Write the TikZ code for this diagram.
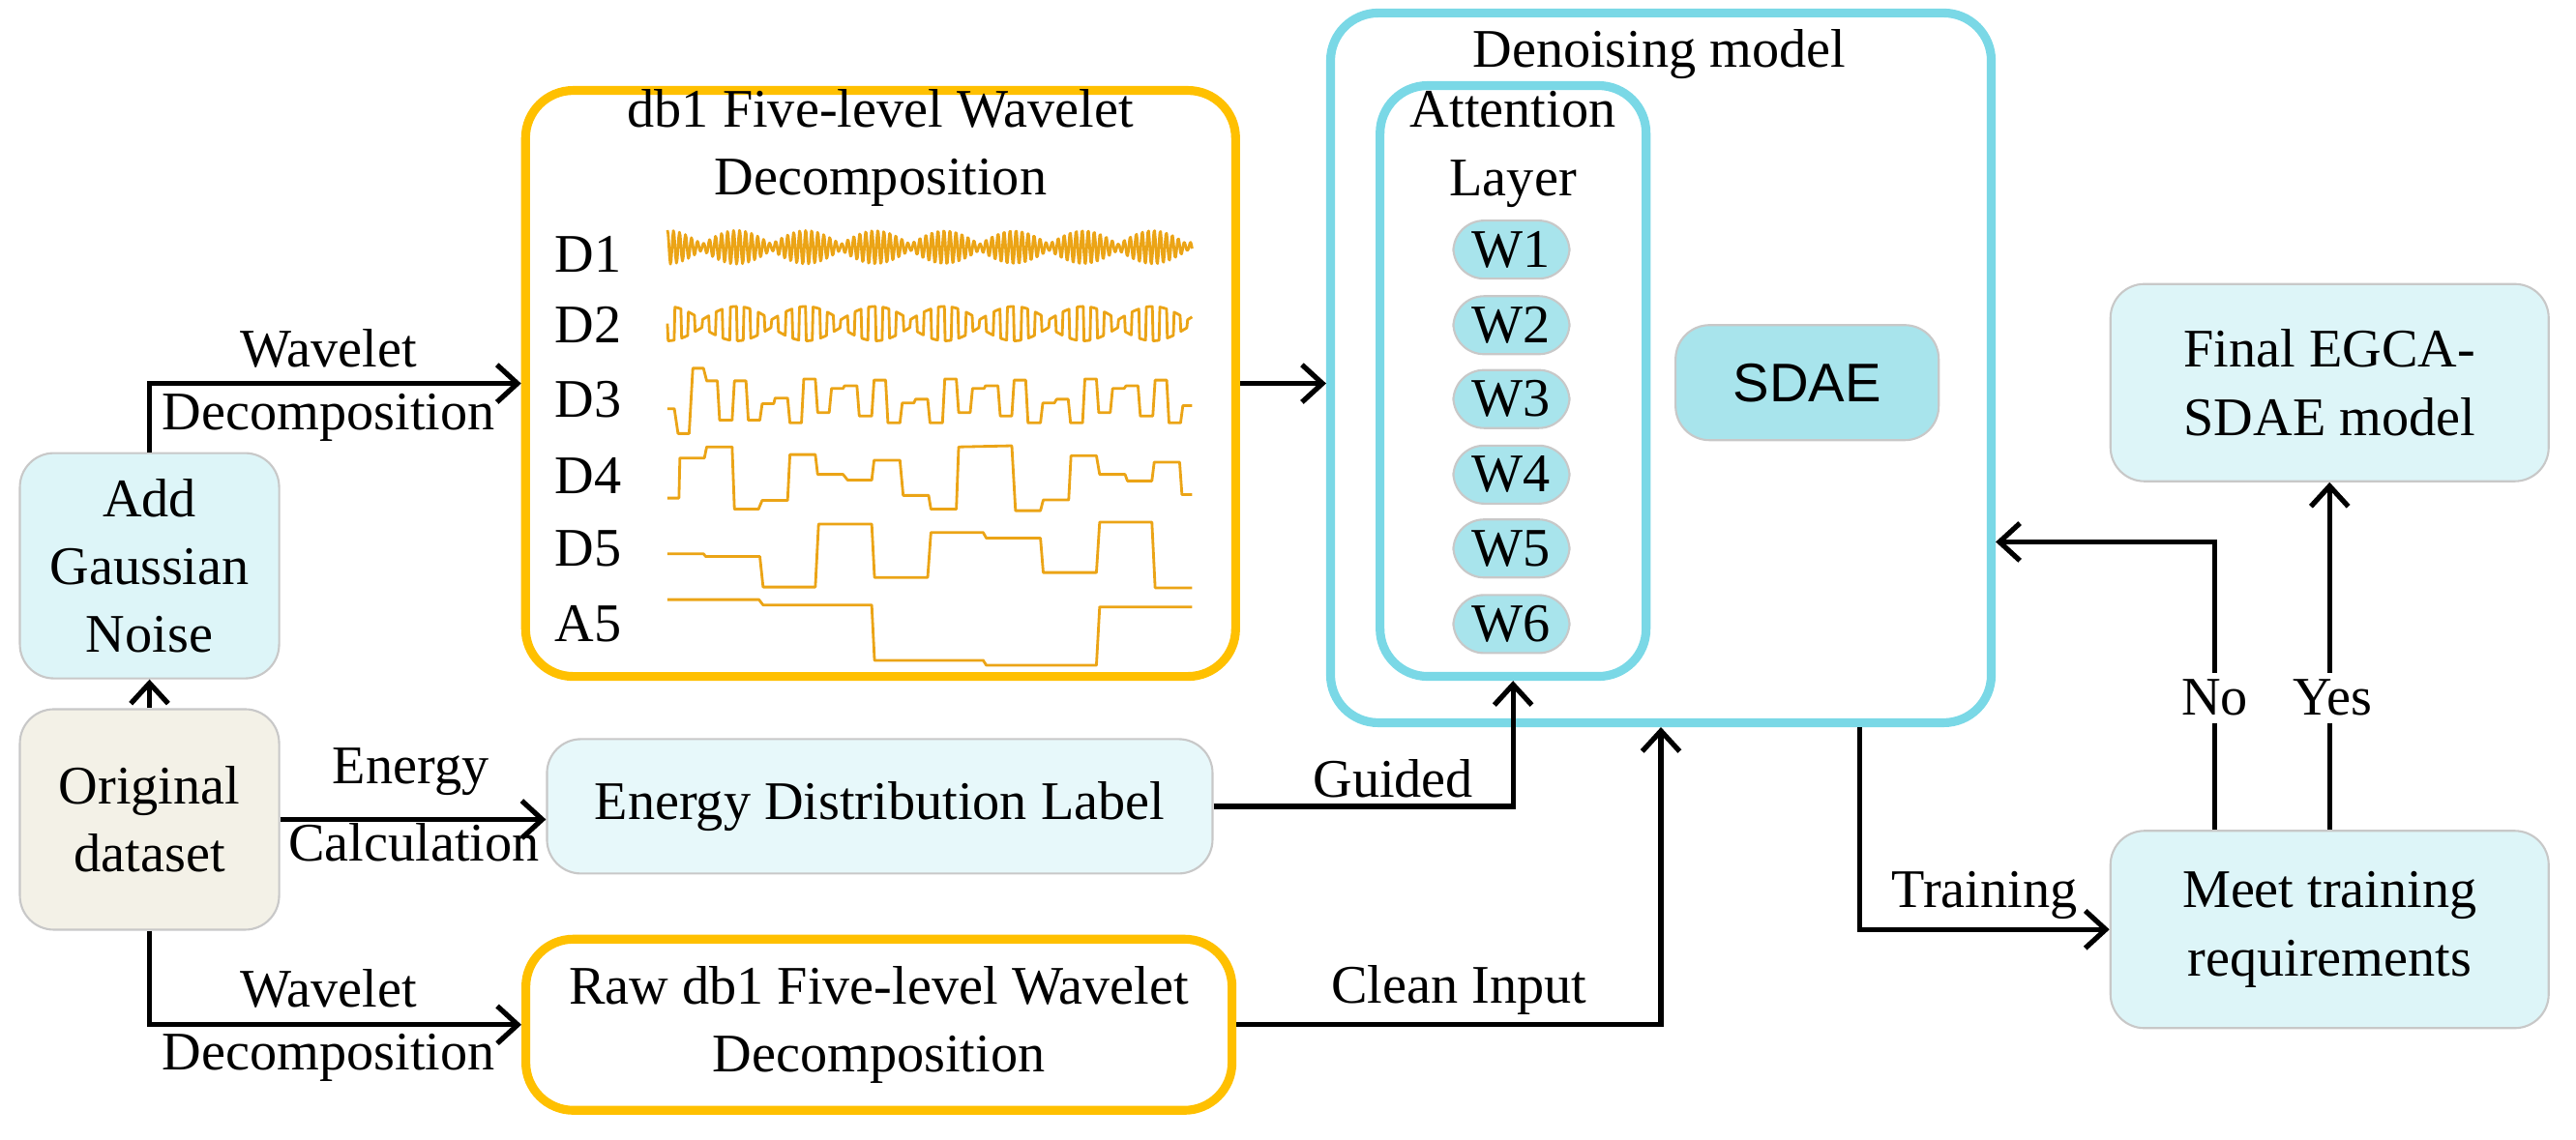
\documentclass[tikz,border=0pt]{standalone}
\usepackage{fontspec}
\setmainfont{Liberation Serif}
\newfontfamily\arialf{Liberation Sans}
\usetikzlibrary{arrows.meta,calc}
\definecolor{org}{HTML}{FFC000}
\definecolor{cyb}{HTML}{7AD8E6}
\definecolor{lfill}{HTML}{DDF5F8}
\definecolor{bfill}{HTML}{F3F1E7}
\definecolor{wfill}{HTML}{A8E4EC}
\definecolor{gbord}{HTML}{C8C8C8}
\definecolor{sig}{HTML}{EBA416}
\begin{document}
\begin{tikzpicture}[x=0.016983cm,y=-0.016983cm,
  every node/.style={font=\fontsize{16}{20}\selectfont,inner sep=0pt},
  softbox/.style={draw=gbord,line width=0.6pt,rounded corners=10pt,fill=lfill,align=center},
  orgbox/.style={draw=org,line width=2.6pt,rounded corners=14pt},
  cybox/.style={draw=cyb,line width=2.6pt,rounded corners=14pt},
  pill/.style={draw=gbord,line width=0.6pt,fill=wfill,rounded corners=9pt,text width=1.2cm,align=center,minimum height=0.6cm},
  conn/.style={line width=1.5pt,-{Straight Barb[length=6pt,width=11pt,line width=1.5pt]}},
  sigl/.style={sig,line width=0.8pt,line join=round}]
\useasboundingbox (0,0) rectangle (1568,694);
% boxes
\node[softbox,minimum width=2.68cm,minimum height=2.33cm] (add) at (91,344.5) {Add\\Gaussian\\Noise};
\node[softbox,fill=bfill,minimum width=2.68cm,minimum height=2.28cm] (orig) at (91,499) {Original\\dataset};
\node[orgbox,minimum width=7.34cm,minimum height=6.06cm] (wav) at (536,233.5) {};
\node[align=center] (wavt) at (536,90) {db1 Five-level Wavelet\\Decomposition};
\node[softbox,fill=lfill!70!white,minimum width=6.88cm,minimum height=1.39cm] (energy) at (535.5,491) {Energy Distribution Label};
\node[orgbox,minimum width=7.3cm,minimum height=1.77cm,align=center] (raw) at (535,624) {Raw db1 Five-level Wavelet\\Decomposition};
\node[cybox,minimum width=6.83cm,minimum height=7.34cm] (den) at (1011,224) {};
\node (dent) at (1010,33) {Denoising model};
\node[cybox,minimum width=2.75cm,minimum height=6.11cm] (att) at (921,232) {};
\node[align=center] (attt) at (921,91) {Attention\\Layer};
\foreach \i/\yy in {1/152,2/198,3/243,4/289,5/334,6/380}
  \node[pill] (w\i) at (920,\yy) {W\i};
\node[softbox,fill=wfill,minimum width=2.72cm,minimum height=1.19cm] (sdae) at (1100,233) {\arialf SDAE};
\node[softbox,minimum width=4.53cm,minimum height=2.04cm] (final) at (1418,233) {Final EGCA-\\SDAE model};
\node[softbox,minimum width=4.53cm,minimum height=2.04cm] (meet) at (1418,566) {Meet training\\requirements};
% wavelet labels
\foreach \t/\yy in {D1/155,D2/198,D3/243,D4/290,D5/334,A5/380}
  \node (l\t) at (358,\yy) {\t};
% signals
\begin{scope}[shift={(317.6,52.9)},xscale=0.2814,yscale=0.2325]
\draw[sigl] plot[domain=315:1450,samples=700] (\x,{420-(8+37*abs(sin((\x-540)*1.2)))*sin(mod(\x,13)*27.69)});
\draw[sigl] plot[domain=315:1450,samples=700] (\x,{620-(10+35*abs(sin((\x-540)*1.2)))*sign(sin(mod(\x,30)*12))});
\draw[sigl] (315,843)--(330,843)--(338,908)--(362,908)--(370,737)--(393,737)--(400,770)--(423,770)--(428,873)--(455,873)--(460,770)--(485,770)--(490,873)--(515,873)--(520,830)--(545,830)--(548,815)--(575,815)--(580,880)--(605,880)--(610,765)--(635,765)--(640,853)--(665,853)--(670,790)--(695,790)--(698,783)--(725,783)--(730,862)--(757,862)--(762,768)--(787,768)--(792,880)--(818,880)--(823,828)--(848,828)--(852,818)--(878,818)--(883,880)--(910,880)--(915,765)--(940,765)--(945,853)--(970,853)--(975,790)--(1000,790)--(1003,783)--(1030,783)--(1035,862)--(1060,862)--(1065,768)--(1090,768)--(1095,880)--(1122,880)--(1127,828)--(1152,828)--(1157,818)--(1182,818)--(1187,880)--(1213,880)--(1218,765)--(1243,765)--(1248,853)--(1273,853)--(1278,790)--(1303,790)--(1307,783)--(1333,783)--(1338,862)--(1365,862)--(1370,768)--(1395,768)--(1400,880)--(1425,880)--(1430,835)--(1450,835);
\draw[sigl] (315,1077)--(340,1077)--(342,972)--(395,972)--(400,943)--(455,943)--(460,1106)--(512,1106)--(520,1083)--(575,1083)--(580,963)--(635,963)--(640,1015)--(695,1015)--(705,1030)--(757,1030)--(762,978)--(818,978)--(825,1070)--(880,1070)--(885,1106)--(940,1106)--(945,943)--(1060,940)--(1068,1110)--(1122,1110)--(1128,1082)--(1183,1082)--(1188,966)--(1243,966)--(1250,1015)--(1305,1015)--(1310,1032)--(1363,1032)--(1368,983)--(1423,983)--(1428,1068)--(1450,1068);
\draw[sigl] (315,1223)--(393,1223)--(398,1230)--(515,1230)--(522,1310)--(635,1310)--(642,1145)--(757,1145)--(763,1285)--(878,1285)--(885,1167)--(998,1167)--(1005,1182)--(1122,1182)--(1128,1272)--(1243,1272)--(1250,1140)--(1363,1140)--(1370,1312)--(1450,1312);
\draw[sigl] (315,1343)--(513,1343)--(522,1357)--(757,1357)--(763,1502)--(998,1502)--(1005,1515)--(1243,1515)--(1250,1362)--(1450,1362);
\end{scope}
% connectors
\draw[conn] (orig.north) -- (add.south);
\draw[conn] (add.north) |- (wav.west);
\draw[conn] (orig.south) |- (raw.west);
\draw[conn] (orig.east) -- (energy.west |- orig.east);
\draw[conn] (wav.east) -- (den.west |- wav.east);
\draw[conn] (energy.east) -| (att.south);
\draw[conn] (raw.east) -| (den.south);
\coordinate (tr) at ($(den.south)+(121,0)$);
\draw[conn] (tr) |- (meet.west);
\coordinate (nost) at ($(meet.north)+(-70,0)$);
\coordinate (noend) at ($(den.east)+(0,106)$);
\draw[conn] (nost) |- (noend);
\draw[conn] (meet.north) -- (final.south);
% labels
\node[fill=white,inner sep=2pt] (nol) at (1348,425) {No};
\node[fill=white,inner sep=2pt] (yesl) at (1420,425) {Yes};
\node (wl1) at (200,212) {Wavelet};
\node (wl2) at (200,254) {Decomposition};
\node (wl3) at (200,602) {Wavelet};
\node (wl4) at (200,644) {Decomposition};
\node (el1) at (250,470) {Energy};
\node (el2) at (252,513) {Calculation};
\node (gl) at (848,474) {Guided};
\node (cl) at (888,603) {Clean Input};
\node (tl) at (1208,545) {Training};
\end{tikzpicture}
\end{document}
